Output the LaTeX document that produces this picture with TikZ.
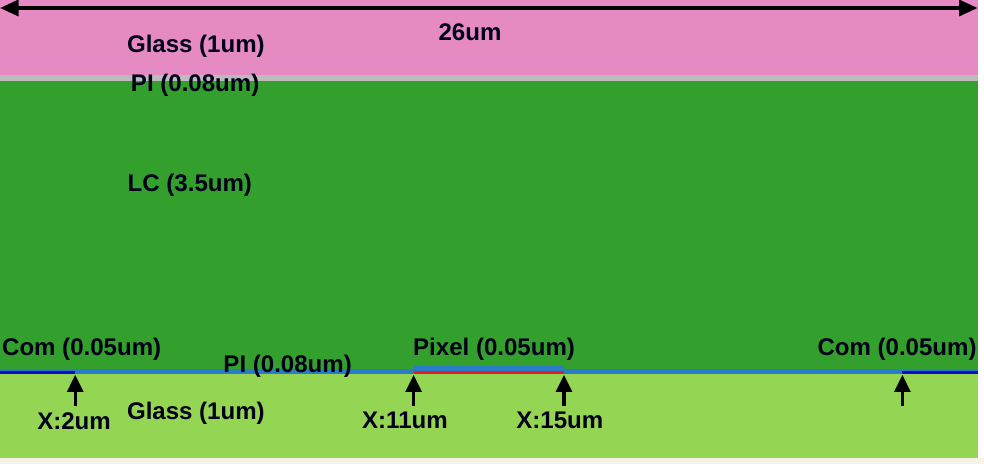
\documentclass[tikz,border=0pt]{standalone}
\usepackage{fontspec}
\setmainfont{Liberation Sans}
\usetikzlibrary{arrows.meta}
\definecolor{GlassPink}{RGB}{229,138,195}
\definecolor{PIGray}{RGB}{188,188,188}
\definecolor{LCGreen}{RGB}{51,160,46}
\definecolor{PIBlue}{RGB}{43,124,200}
\definecolor{ComBlue}{RGB}{10,10,205}
\definecolor{PixRed}{RGB}{228,30,30}
\definecolor{GlassGreen}{RGB}{148,214,84}
\definecolor{PageCream}{RGB}{246,242,232}

\begin{document}
\begin{tikzpicture}[x=1cm, y=-0.02658cm,
  lbl/.style={font=\bfseries\fontsize{18.2}{20}\selectfont, text=black!90!blue, inner sep=0pt},
  dimarrow/.style={{Triangle[length=14pt,width=12pt]}-{Triangle[length=14pt,width=12pt]}, line width=2.8pt},
  uparrow/.style={-{Triangle[length=13pt,width=12pt]}, line width=2.5pt}]
\useasboundingbox (0,0) rectangle (26.17,464);
% layers, top to bottom
\fill[GlassPink] (0,0) rectangle (26,75);
\fill[PIGray] (0,75) rectangle (26,81);
\fill[LCGreen] (0,81) rectangle (26,369);
\fill[PIBlue] (0,369) rectangle (26,374);
\fill[GlassGreen] (0,374) rectangle (26,458);
\fill[PageCream] (0,458) rectangle (26.17,464);
% electrodes
\fill[ComBlue] (0,371.5) rectangle (2,374);
\fill[ComBlue] (24,371.5) rectangle (26,374);
\fill[PIBlue] (11,366) rectangle (15,371);
\fill[PixRed] (11,371) rectangle (15,374);
% edge points of the electrodes
\coordinate (ComL) at (2,375);
\coordinate (PixL) at (11,375);
\coordinate (PixR) at (15,375);
\coordinate (ComR) at (24,375);
% total width
\coordinate (dimL) at (0,8);
\coordinate (dimR) at (26,8);
\draw[dimarrow] (dimL) -- (dimR);
\node[lbl] (width) at (12.5,32) {26um};
% layer names
\node[lbl] (glassTop) at (5.21,46) {Glass (1um)};
\node[lbl] (piTop) at (5.19,85) {PI (0.08um)};
\node[lbl] (lc) at (5.05,185) {LC (3.5um)};
\node[lbl, anchor=west] (comL) at (0.05,349) {Com (0.05um)};
\node[lbl] (piBot) at (7.65,366) {PI (0.08um)};
\node[lbl] (pixel) at (13.14,349) {Pixel (0.05um)};
\node[lbl, anchor=east] (comR) at (25.98,349) {Com (0.05um)};
\node[lbl] (glassBot) at (5.21,414) {Glass (1um)};
% positions
\node[lbl] (x2) at (1.97,421) {X:2um};
\node[lbl] (x11) at (10.77,421) {X:11um};
\node[lbl] (x15) at (14.89,421) {X:15um};
\draw[uparrow] (ComL |- 0,406) -- (ComL);
\draw[uparrow] (PixL |- 0,406) -- (PixL);
\draw[uparrow] (PixR |- 0,406) -- (PixR);
\draw[uparrow] (ComR |- 0,406) -- (ComR);
\end{tikzpicture}
\end{document}
